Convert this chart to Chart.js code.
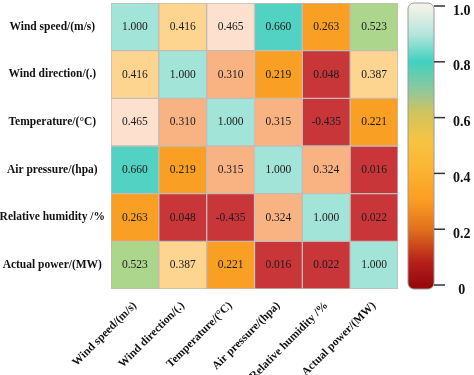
<!DOCTYPE html>
<html lang="en">
<head>
<meta charset="UTF-8">
<title>Correlation heatmap</title>
<style>
    body { margin: 0; background: #fff; }
    #wrap { width: 474px; height: 375px; }
</style>
</head>
<body>
<div id="wrap"><canvas id="chart"></canvas></div>

<script src="https://cdn.jsdelivr.net/npm/chart.js"></script>
<script>
// Data
const variables = ['Wind speed/(m/s)', 'Wind direction/(.)', 'Temperature/(°C)',
    'Air pressure/(hpa)', 'Relative humidity /%', 'Actual power/(MW)'];
const rowWindSpeed = [1.000, 0.416, 0.465, 0.660, 0.263, 0.523];
const rowWindDir   = [0.416, 1.000, 0.310, 0.219, 0.048, 0.387];
const rowTemp      = [0.465, 0.310, 1.000, 0.315, -0.435, 0.221];
const rowPressure  = [0.660, 0.219, 0.315, 1.000, 0.324, 0.016];
const rowHumidity  = [0.263, 0.048, -0.435, 0.324, 1.000, 0.022];
const rowPower     = [0.523, 0.387, 0.221, 0.016, 0.022, 1.000];
const corr = [rowWindSpeed, rowWindDir, rowTemp, rowPressure, rowHumidity, rowPower];
const colorbarTicks = [0, 0.2, 0.4, 0.6, 0.8, 1.0];

const serif = '"Liberation Serif", "DejaVu Serif", serif';

// cell colours as they appear in the figure
function cellColor(v) {
    if (v >= 0.9) return '#a2e4d8';
    if (v >= 0.6) return '#52d2c3';
    if (v >= 0.5) return '#abd68b';
    if (v >= 0.45) return '#fde0cd';
    if (v >= 0.38) return '#fdd590';
    if (v >= 0.3) return '#f9b383';
    if (v >= 0.15) return '#f9a024';
    return '#c8363a';
}

const datasets = corr.map((row, r) => ({
    label: variables[r],
    data: row.map(() => [r, r + 1]),
    backgroundColor: row.map(cellColor),
    borderColor: '#c4bcb4',
    borderWidth: 1,
    borderSkipped: false,
    grouped: false,
    barPercentage: 1,
    categoryPercentage: 1
}));

// numbers inside cells + colour bar
const heatPlugin = {
    id: 'heat',
    afterDatasetsDraw(chart) {
        const ctx = chart.ctx;
        ctx.save();
        ctx.font = '11.5px ' + serif;
        ctx.fillStyle = '#1a1a1a';
        ctx.textAlign = 'center';
        ctx.textBaseline = 'middle';
        corr.forEach((row, r) => {
            const meta = chart.getDatasetMeta(r);
            row.forEach((v, c) => {
                const el = meta.data[c];
                ctx.fillText(v.toFixed(3), el.x, (el.y + el.base) / 2);
            });
        });
        ctx.restore();
    },
    afterDraw(chart) {
        const ctx = chart.ctx;
        const s = chart.scales.y2;
        const area = chart.chartArea;
        const x0 = area.right + 10, w = 26;
        const top = area.top, bottom = area.bottom;
        const g = ctx.createLinearGradient(0, s.getPixelForValue(0), 0, s.getPixelForValue(1));
        g.addColorStop(0.00, '#960a0c');
        g.addColorStop(0.08, '#b51f1a');
        g.addColorStop(0.20, '#e2701c');
        g.addColorStop(0.30, '#fb9c23');
        g.addColorStop(0.42, '#fcb532');
        g.addColorStop(0.52, '#f6c443');
        g.addColorStop(0.62, '#cfc35e');
        g.addColorStop(0.70, '#8ec89c');
        g.addColorStop(0.80, '#40d1c0');
        g.addColorStop(0.90, '#b6e6dc');
        g.addColorStop(1.00, '#f3f2e8');
        ctx.save();
        ctx.beginPath();
        ctx.roundRect(x0, top, w, bottom - top, 6);
        ctx.fillStyle = g;
        ctx.fill();
        ctx.strokeStyle = '#9a9a9a';
        ctx.lineWidth = 1;
        ctx.stroke();
        ctx.strokeStyle = '#333';
        ctx.lineWidth = 1.5;
        colorbarTicks.forEach(v => {
            const y = s.getPixelForValue(v);
            ctx.beginPath();
            ctx.moveTo(x0 + w, y);
            ctx.lineTo(x0 + w + 11, y);
            ctx.stroke();
        });
        ctx.restore();
    }
};

// keep the tick padding of the vertical axes from pushing the plot down
function noVertPad(s, width) {
    s.width = width;
    s.paddingTop = 0;
    s.paddingBottom = 0;
}

new Chart(document.getElementById('chart'), {
    type: 'bar',
    data: { labels: variables, datasets: datasets },
    options: {
        responsive: true,
        maintainAspectRatio: false,
        animation: false,
        layout: { padding: { top: 3, left: 0, right: 0, bottom: 0 } },
        plugins: { legend: { display: false }, tooltip: { enabled: false } },
        scales: {
            x: {
                type: 'category',
                grid: { display: false },
                border: { display: false },
                afterFit: s => { s.height = 86; s.paddingLeft = 0; s.paddingRight = 0; },
                ticks: {
                    minRotation: 45,
                    maxRotation: 45,
                    padding: 2,
                    color: '#111',
                    font: { family: serif, size: 11.5, weight: 'bold' }
                }
            },
            y: {
                type: 'linear',
                reverse: true,
                min: 0,
                max: 6,
                grid: { display: false, drawTicks: false },
                border: { display: false },
                afterFit: s => noVertPad(s, 111),
                afterBuildTicks: s => { s.ticks = variables.map((_, i) => ({ value: i + 0.5 })); },
                ticks: {
                    padding: 6,
                    crossAlign: 'center',
                    color: '#111',
                    font: { family: serif, size: 11.5, weight: 'bold' },
                    callback: v => variables[Math.floor(v)]
                }
            },
            y2: {
                type: 'linear',
                position: 'right',
                min: -0.0143,
                max: 1.0108,
                grid: { display: false, drawTicks: false },
                border: { display: false },
                afterFit: s => noVertPad(s, 76),
                afterBuildTicks: s => { s.ticks = colorbarTicks.map(v => ({ value: v })); },
                ticks: {
                    padding: 55,
                    crossAlign: 'center',
                    labelOffset: 5,
                    color: '#111',
                    font: { family: serif, size: 14, weight: 'bold' },
                    callback: v => v === 0 ? '0' : v.toFixed(1)
                }
            }
        }
    },
    plugins: [heatPlugin]
});
</script>
</body>
</html>
